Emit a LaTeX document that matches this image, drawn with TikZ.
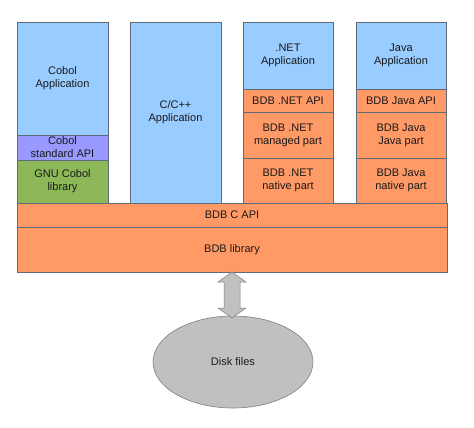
\documentclass[tikz,border=0pt]{standalone}
\usepackage{fontspec}
\setmainfont{Liberation Sans}
\usetikzlibrary{shapes.geometric}
\definecolor{appblue}{HTML}{99CCFF}
\definecolor{apiviolet}{HTML}{9999FF}
\definecolor{libgreen}{HTML}{8DB85A}
\definecolor{bdborange}{HTML}{FF9966}
\definecolor{diskgray}{HTML}{C0C0C0}
\definecolor{edgegray}{HTML}{5F6B78}
\definecolor{txt}{HTML}{1A1A1A}
\begin{document}
\begin{tikzpicture}[x=1pt,y=-1pt,
  layer/.style={draw=edgegray,line width=0.6pt,align=center,text=txt,
    font=\fontsize{11}{13}\selectfont,inner sep=0pt,outer sep=0pt}]
\useasboundingbox (0,0) rectangle (474,428);
% Cobol column
\node[layer,fill=appblue,minimum width=91,minimum height=113] (cobapp) at (62.5,78.5) {Cobol\\Application};
\node[layer,fill=apiviolet,minimum width=91,minimum height=25] (cobapi) at (62.5,147.5) {Cobol\\standard API};
\node[layer,fill=libgreen,minimum width=91,minimum height=43] (gnucob) at (62.5,181.5) {GNU Cobol\\library};
% C/C++ column
\node[layer,fill=appblue,minimum width=91,minimum height=181] (capp) at (175.5,112.5) {C/C++\\Application};
% .NET column
\node[layer,fill=appblue,minimum width=90,minimum height=67] (netapp) at (288,55.5) {.NET\\Application};
\node[layer,fill=bdborange,minimum width=90,minimum height=23] (netapi) at (288,100.5) {BDB .NET API};
\node[layer,fill=bdborange,minimum width=90,minimum height=46] (netman) at (288,135) {BDB .NET\\managed part};
\node[layer,fill=bdborange,minimum width=90,minimum height=45] (netnat) at (288,180.5) {BDB .NET\\native part};
% Java column
\node[layer,fill=appblue,minimum width=90,minimum height=67] (javaapp) at (401,55.5) {Java\\Application};
\node[layer,fill=bdborange,minimum width=90,minimum height=23] (javaapi) at (401,100.5) {BDB Java API};
\node[layer,fill=bdborange,minimum width=90,minimum height=46] (javajava) at (401,135) {BDB Java\\Java part};
\node[layer,fill=bdborange,minimum width=90,minimum height=45] (javanat) at (401,180.5) {BDB Java\\native part};
% base layers
\node[layer,fill=bdborange,minimum width=430,minimum height=24] (capi) at (232,215) {BDB C API};
\node[layer,fill=bdborange,minimum width=430,minimum height=45] (bdblib) at (232,249.5) {BDB library};
% disk
\node[layer,ellipse,fill=diskgray,draw=gray,minimum width=160,minimum height=92] (disk) at (233,362) {Disk files};
% double arrow between library and disk
\coordinate (atop) at (232,272);
\coordinate (abot) at (232,318);
\fill[diskgray,draw=gray,line width=0.5pt]
  (atop) -- ++(14,10) -- ++(-6,0) -- ++(0,26) -- ++(6,0) -- (abot)
  -- ++(-14,-10) -- ++(6,0) -- ++(0,-26) -- ++(-6,0) -- cycle;
\end{tikzpicture}
\end{document}
